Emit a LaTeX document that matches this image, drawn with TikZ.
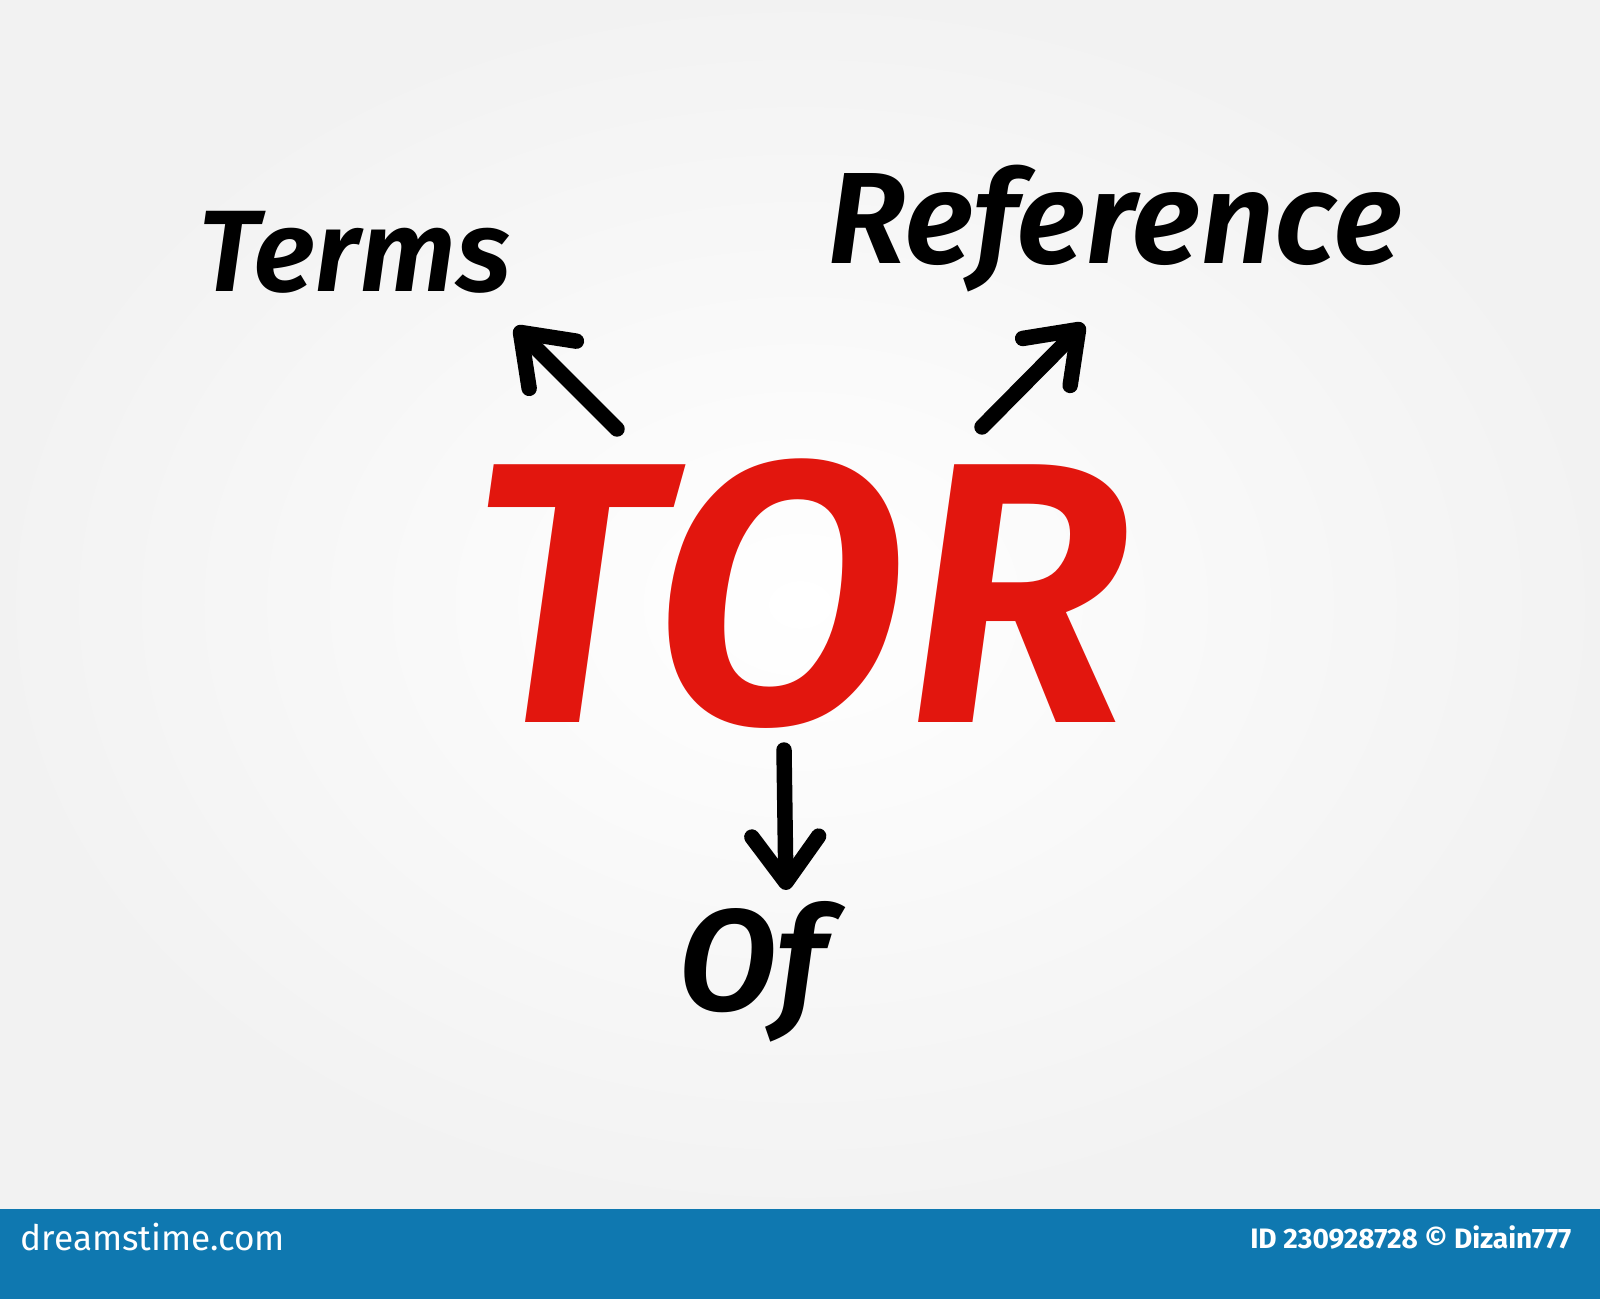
\documentclass[tikz,border=0pt]{standalone}
\usepackage{fontspec}
\setmainfont{Fira Sans}
\newfontfamily\markfont{Fira Sans SemiBold}[ItalicFont={Fira Sans SemiBold Italic}]
\usetikzlibrary{arrows.meta}
\definecolor{torred}{RGB}{226,22,14}
\definecolor{barblue}{RGB}{15,120,176}
\tikzset{hand/.style={draw=black, line width=4.4pt, line cap=round, -{Straight Barb[length=13pt,width=19pt,round]}},
  word/.style={inner sep=0pt},
  every node/.style={inner sep=0pt}}

\begin{document}
\begin{tikzpicture}
  \useasboundingbox (0,0) rectangle (16,12.99);
  \shade[inner color=white, outer color=black!5] (0,0.9) rectangle (16,12.99);
  \fill[barblue] (0,0) rectangle (16,0.90);
  % the letters
  \node[torred, font=\fontsize{106}{106}\markfont\itshape] (tor) at (8.0,7.05) {TOR};
  \node[word, font=\fontsize{33}{33}\markfont\itshape] (terms) at (3.55,10.47) {Terms};
  \node[word, font=\fontsize{37}{37}\markfont\itshape] (reference) at (11.15,10.70) {Reference};
  \node[word, font=\fontsize{41}{41}\markfont\itshape] (of) at (7.52,3.27) {Of};
  % arrow ends
  \coordinate (a1) at (6.17,8.70); \coordinate (b1) at (5.15,9.72);
  \coordinate (a2) at (9.82,8.72); \coordinate (b2) at (10.84,9.75);
  \coordinate (a3) at (7.84,5.49); \coordinate (b3) at (7.86,4.09);
  \foreach \i in {1,2,3}
    \path[hand] (a\i) -- (b\i);
  % the bar
  \node[white, font=\fontsize{10}{10}\selectfont, anchor=west] (site) at (0.2,0.62) {dreamstime.com};
  \node[white, font=\fontsize{8}{8}\selectfont\bfseries, anchor=east] (credit) at (15.72,0.62) {ID 230928728 © Dizain777};
\end{tikzpicture}
\end{document}
